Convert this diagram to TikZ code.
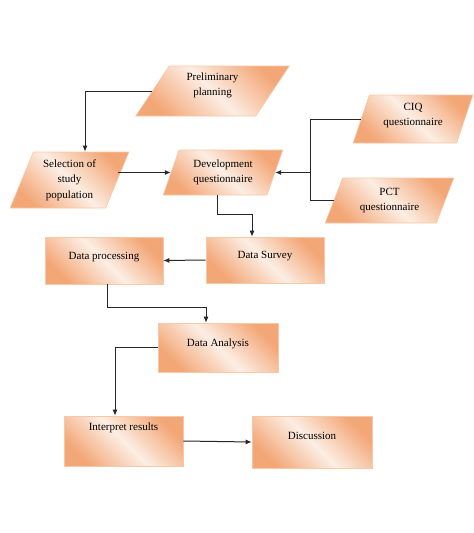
\documentclass[tikz,border=0pt]{standalone}
\usepackage{fontspec}
\setmainfont{Liberation Serif}
\usetikzlibrary{shapes.geometric}
\usetikzlibrary{arrows.meta}
\usepackage{xcolor}
\definecolor{orD}{HTML}{F3A676}
\definecolor{orL}{HTML}{FCEEE4}
\definecolor{orB}{HTML}{F6C8A8}
\definecolor{lineC}{HTML}{262626}

\begin{document}
\begin{tikzpicture}[x=1pt, y=-1pt,
  font=\fontsize{11}{15.5}\selectfont,
  filled/.style={draw=orB, line width=.6pt, top color=orD, bottom color=orD, middle color=orL, shading angle=-45, align=center, inner sep=2pt},
  para/.style={filled, trapezium, trapezium left angle=#1, trapezium right angle={180-#1}, trapezium stretches=true},
  box/.style={filled, rectangle},
  link/.style={draw=lineC, line width=1pt},
  arr/.style={link, -{Latex[length=6pt,width=5pt]}}]

\useasboundingbox (0,0) rectangle (474,533);


\node[para=62, minimum width=155, minimum height=50, text depth=13.5pt] (prelim) at (212.5,91) {Preliminary\\planning};
\node[para=68, minimum width=119, minimum height=56] (select) at (69.5,180) {Selection of\\study\\population};
\node[para=69, minimum width=120, minimum height=45] (develop) at (223,172.5) {Development\\questionnaire};
\node[para=72, minimum width=120, minimum height=48, text depth=9.5pt] (ciq) at (413,119) {CIQ\\questionnaire};
\node[para=68, minimum width=129, minimum height=45] (pct) at (389.5,200.5) {PCT\\questionnaire};

\node[box, minimum width=118, minimum height=46, text depth=10.5pt] (survey) at (265,260) {Data Survey};
\node[box, minimum width=118, minimum height=47, text depth=9.5pt] (process) at (104,260.5) {Data processing};
\node[box, minimum width=120, minimum height=49, text depth=9.5pt] (analysis) at (218,347.5) {Data Analysis};
\node[box, minimum width=119, minimum height=50, text depth=28pt] (interp) at (123.5,441) {Interpret results};
\node[box, minimum width=120, minimum height=52, text depth=12.5pt] (discuss) at (312,442) {Discussion};


% questionnaires join on one line
\coordinate (bus) at (310,0);
\draw[link] (ciq.west) -| (bus |- pct.west) -- (pct.west);
\draw[arr] (bus |- develop.east) -- (develop.east);

\draw[arr] (prelim.west) -| ([xshift=15.5]select.north);
\draw[arr] (select.east |- develop.west) -- (develop.west);
\draw[arr] ([xshift=-6]develop.south) -- ++(0,19) -| ([xshift=-13]survey.north);

\draw[arr] (survey.west) -- (process.east);
\draw[arr] ([xshift=3]process.south) -- ++(0,23) -| ([xshift=-12]analysis.north);
\draw[arr] (analysis.west) -| ([xshift=-8.5]interp.north);
\draw[arr] (interp.east) -- (discuss.west);

\end{tikzpicture}
\end{document}
